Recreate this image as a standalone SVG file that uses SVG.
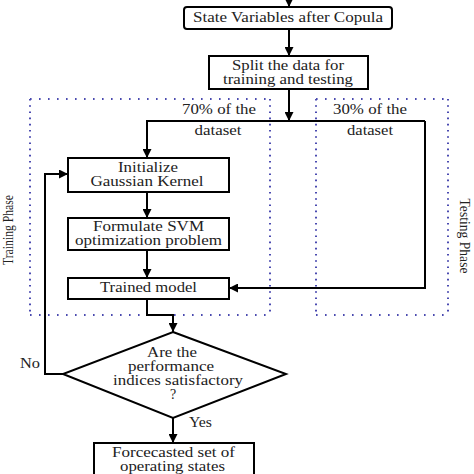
<svg xmlns="http://www.w3.org/2000/svg" width="474" height="474" viewBox="0 0 474 474">
<defs>
<marker id="ah" viewBox="0 0 10 10" refX="10" refY="5" markerWidth="4.5" markerHeight="4.5" orient="auto" markerUnits="strokeWidth">
<path d="M0,0 L10,5 L0,10 Z" fill="#000"/>
</marker>
<style>
.box{fill:#fff;stroke:#000;stroke-width:2}
.t{font-family:"Liberation Serif","Times New Roman",serif;font-size:14px;fill:#222;text-anchor:middle}
.r{font-size:14px}
.c{fill:none;stroke:#000;stroke-width:2}
.a{marker-end:url(#ah)}
.dh{fill:none;stroke:#4a4ab0;stroke-width:2;stroke-dasharray:1.6 7.4}
.dv{fill:none;stroke:#4a4ab0;stroke-width:2;stroke-dasharray:1.6 4.6}
</style>
</defs>
<rect width="474" height="474" fill="#fff"/>
<g id="regions">
<path class="dh" d="M30,99 H270 M30,315 H270"/>
<path class="dv" d="M30,99 V315 M270,99 V315"/>
<path class="dh" d="M316,99 H448 M316,315 H448"/>
<path class="dv" d="M316,99 V315 M448,99 V315"/>
<text class="t r" transform="translate(13,230) rotate(-90)" textLength="70" lengthAdjust="spacingAndGlyphs">Training Phase</text>
<text class="t r" transform="translate(460,236) rotate(90)" textLength="75" lengthAdjust="spacingAndGlyphs">Testing Phase</text>
</g>
<g id="connectors">
<path class="c a" d="M289,-10 V7"/>
<path class="c a" d="M289,29 V56"/>
<path class="c a" d="M289,89 V121"/>
<path class="c a" d="M425,121 H147 V158"/>
<path class="c a" d="M425,121 V288 H229"/>
<path class="c a" d="M147,192 V218"/>
<path class="c a" d="M147,250 V278"/>
<path class="c a" d="M147,299 V315 H173 V332"/>
<path class="c a" d="M63,374 H45 V174 H68"/>
<path class="c a" d="M173,418 V443"/>
<text class="t" x="219" y="114" textLength="74" lengthAdjust="spacingAndGlyphs">70% of the</text>
<text class="t" x="218" y="135" textLength="47" lengthAdjust="spacingAndGlyphs">dataset</text>
<text class="t" x="370" y="114" textLength="74" lengthAdjust="spacingAndGlyphs">30% of the</text>
<text class="t" x="370" y="135" textLength="46" lengthAdjust="spacingAndGlyphs">dataset</text>
<text class="t" x="30" y="368" textLength="20" lengthAdjust="spacingAndGlyphs">No</text>
<text class="t" x="200.5" y="427" textLength="23" lengthAdjust="spacingAndGlyphs">Yes</text>
</g>
<g id="n1">
<rect class="box" x="184" y="7" width="208" height="22" rx="3"/>
<text class="t" x="288" y="22" textLength="190" lengthAdjust="spacingAndGlyphs">State Variables after Copula</text>
</g>
<g id="n2">
<rect class="box" x="209" y="56" width="159" height="33"/>
<text class="t" x="288" y="70" textLength="112" lengthAdjust="spacingAndGlyphs">Split the data for</text>
<text class="t" x="288" y="84" textLength="130" lengthAdjust="spacingAndGlyphs">training and testing</text>
</g>
<g id="n3">
<rect class="box" x="68" y="158" width="161" height="34"/>
<text class="t" x="148" y="172" textLength="60" lengthAdjust="spacingAndGlyphs">Initialize</text>
<text class="t" x="147" y="186" textLength="113" lengthAdjust="spacingAndGlyphs">Gaussian Kernel</text>
</g>
<g id="n4">
<rect class="box" x="68" y="218" width="161" height="32"/>
<text class="t" x="148.5" y="231" textLength="111" lengthAdjust="spacingAndGlyphs">Formulate SVM</text>
<text class="t" x="148.5" y="245" textLength="147" lengthAdjust="spacingAndGlyphs">optimization problem</text>
</g>
<g id="n5">
<rect class="box" x="68" y="278" width="161" height="21"/>
<text class="t" x="148.5" y="292" textLength="97" lengthAdjust="spacingAndGlyphs">Trained model</text>
</g>
<g id="n6">
<path class="box" d="M173,332 L286,374 L173,418 L63,374 Z"/>
<text class="t" x="172" y="357" textLength="50" lengthAdjust="spacingAndGlyphs">Are the</text>
<text class="t" x="171" y="371" textLength="86" lengthAdjust="spacingAndGlyphs">performance</text>
<text class="t" x="178" y="385" textLength="130" lengthAdjust="spacingAndGlyphs">indices satisfactory</text>
<text class="t" x="173" y="399">?</text>
</g>
<g id="n7">
<rect class="box" x="94" y="443" width="160" height="40"/>
<text class="t" x="173.5" y="457" textLength="123" lengthAdjust="spacingAndGlyphs">Forcecasted set of</text>
<text class="t" x="172.5" y="471" textLength="105" lengthAdjust="spacingAndGlyphs">operating states</text>
</g>
</svg>
